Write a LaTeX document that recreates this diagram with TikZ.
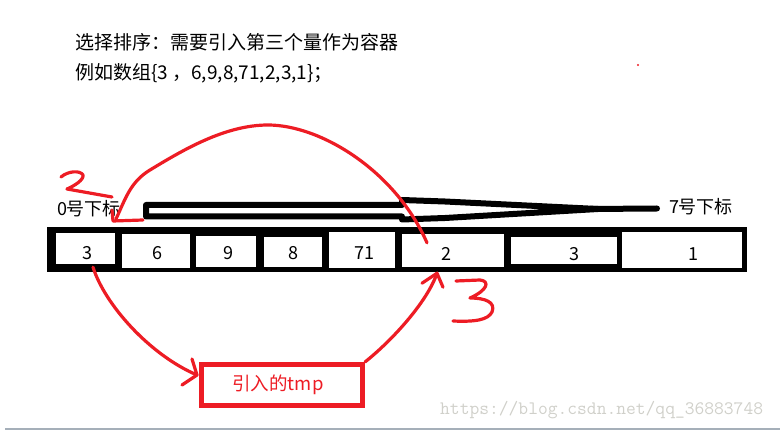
\documentclass[tikz,border=0pt]{standalone}
\usepackage{fontspec}
\setmainfont{Noto Sans CJK SC}
\definecolor{pred}{RGB}{237,28,36}
\definecolor{wm}{RGB}{208,208,202}
\definecolor{gline}{RGB}{165,175,185}
\begin{document}
\begin{tikzpicture}[x=1pt,y=-1pt,
  redline/.style={draw=pred, line width=3.2pt, line cap=round, line join=round},
  cellbox/.style={fill=white, inner sep=0pt, draw=none},
  num/.style={font=\fontsize{18}{18}\selectfont, inner sep=0pt},
  lbl/.style={font=\fontsize{18}{18}\selectfont, inner sep=0pt},
  title/.style={font=\fontsize{19}{19}\selectfont, inner sep=0pt, anchor=west}]
\useasboundingbox (0,0) rectangle (780,430);

% title
\node[title] (t1) at (75,42) {选择排序：需要引入第三个量作为容器};
\node[title] (t2) at (75,73) {例如数组\{3 ，6,9,8,71,2,3,1\}；};
\fill[pred] (638,65) circle (1.2pt);

% black strip and cells
\node[fill=black, inner sep=0pt, minimum width=700pt, minimum height=45pt] (strip) at (397,249.5) {};
\node[cellbox, minimum width=59pt, minimum height=31pt] (c1) at (85.5,248.5) {};
\node[cellbox, minimum width=68pt, minimum height=34pt] (c2) at (156,251) {};
\node[cellbox, minimum width=60pt, minimum height=31pt] (c3) at (226,251.5) {};
\node[cellbox, minimum width=58pt, minimum height=30pt] (c4) at (293,252) {};
\node[cellbox, minimum width=66pt, minimum height=36pt] (c5) at (362,250) {};
\node[cellbox, minimum width=102pt, minimum height=33pt] (c6) at (453,250.5) {};
\node[cellbox, minimum width=106pt, minimum height=27pt] (c7) at (564,250.5) {};
\node[cellbox, minimum width=120pt, minimum height=36pt] (c8) at (682,250) {};

\node[num] (n1) at (87,253.5) {3};
\node[num] (n2) at (157,253.5) {6};
\node[num] (n3) at (228,253.5) {9};
\node[num] (n4) at (293,253.5) {8};
\node[num] (n5) at (364,253.5) {71};
\node[num] (n6) at (446,253.5) {2};
\node[num] (n7) at (574,254) {3};
\node[num] (n8) at (693,254) {1};

% index labels
\node[lbl] (l0) at (89,209) {0号下标};
\node[lbl] (l7) at (701,207) {7号下标};

% hollow arrow
\draw[line width=6pt, line join=round] (146,205) -- (402,205) -- (402,200) -- (445,201.5) -- (598,209)
  -- (445,218) -- (402,219.5) -- (402,216.5) -- (146,216.5) -- cycle;
\draw[line width=6pt, line cap=round] (590,209) -- (657,208.5);

% tmp box
\node[draw=pred, line width=5pt, minimum width=161pt, minimum height=41pt, inner sep=0pt,
      text=pred, font=\fontsize{18.5}{18.5}\selectfont] (tmp) at (282,385) {引入的tmp\hspace*{8pt}};

% red "2" and top arc
\draw[redline] (61,177) .. controls (68,171) and (80,170) .. (83,175)
  .. controls (84,180) and (74,186) .. (67,189) -- (112,197);
\draw[redline] (112,210) -- (113,221) -- (143,220);
\coordinate (s0) at (116,219);
\coordinate (e0) at ([xshift=-26pt,yshift=-9pt]c6.north);
\draw[redline] (s0) .. controls (125,200) and (130,182) .. (150,170)
  .. controls (183,150) and (225,125) .. (268,125)
  .. controls (320,125) and (395,170) .. (e0);

% bottom arcs
\coordinate (s1) at ([xshift=7.5pt,yshift=-3pt]c1.south);
\coordinate (e1) at ([xshift=-2pt,yshift=10pt]tmp.west);
\draw[redline] (s1) .. controls (105,305) and (150,355) .. (e1);
\draw[redline] (e1) ++(-5,-16) -- (e1) -- ++(-15,10);

\coordinate (e2) at ([xshift=-16pt,yshift=-6pt]c6.south);
\draw[redline] (tmp.north east) .. controls (395,338) and (428,300) .. (e2);
\draw[redline] (e2) ++(-15,10) -- (e2) -- ++(6,14);

% red "3"
\draw[redline] (456,281) -- (480,280) .. controls (490,281) and (488,290) .. (470,298)
  .. controls (485,298) and (496,302) .. (492,312) .. controls (488,320) and (475,322) .. (453,321);

% watermark and bottom line
\node[anchor=west, inner sep=0pt, text=wm, font=\ttfamily\fontsize{19}{19}\selectfont] (wmk) at (440,410) {https://blog.csdn.net/qq\_36883748};
\draw[gline, line width=1.5pt] (5,429) -- (780,429);
\end{tikzpicture}
\end{document}
